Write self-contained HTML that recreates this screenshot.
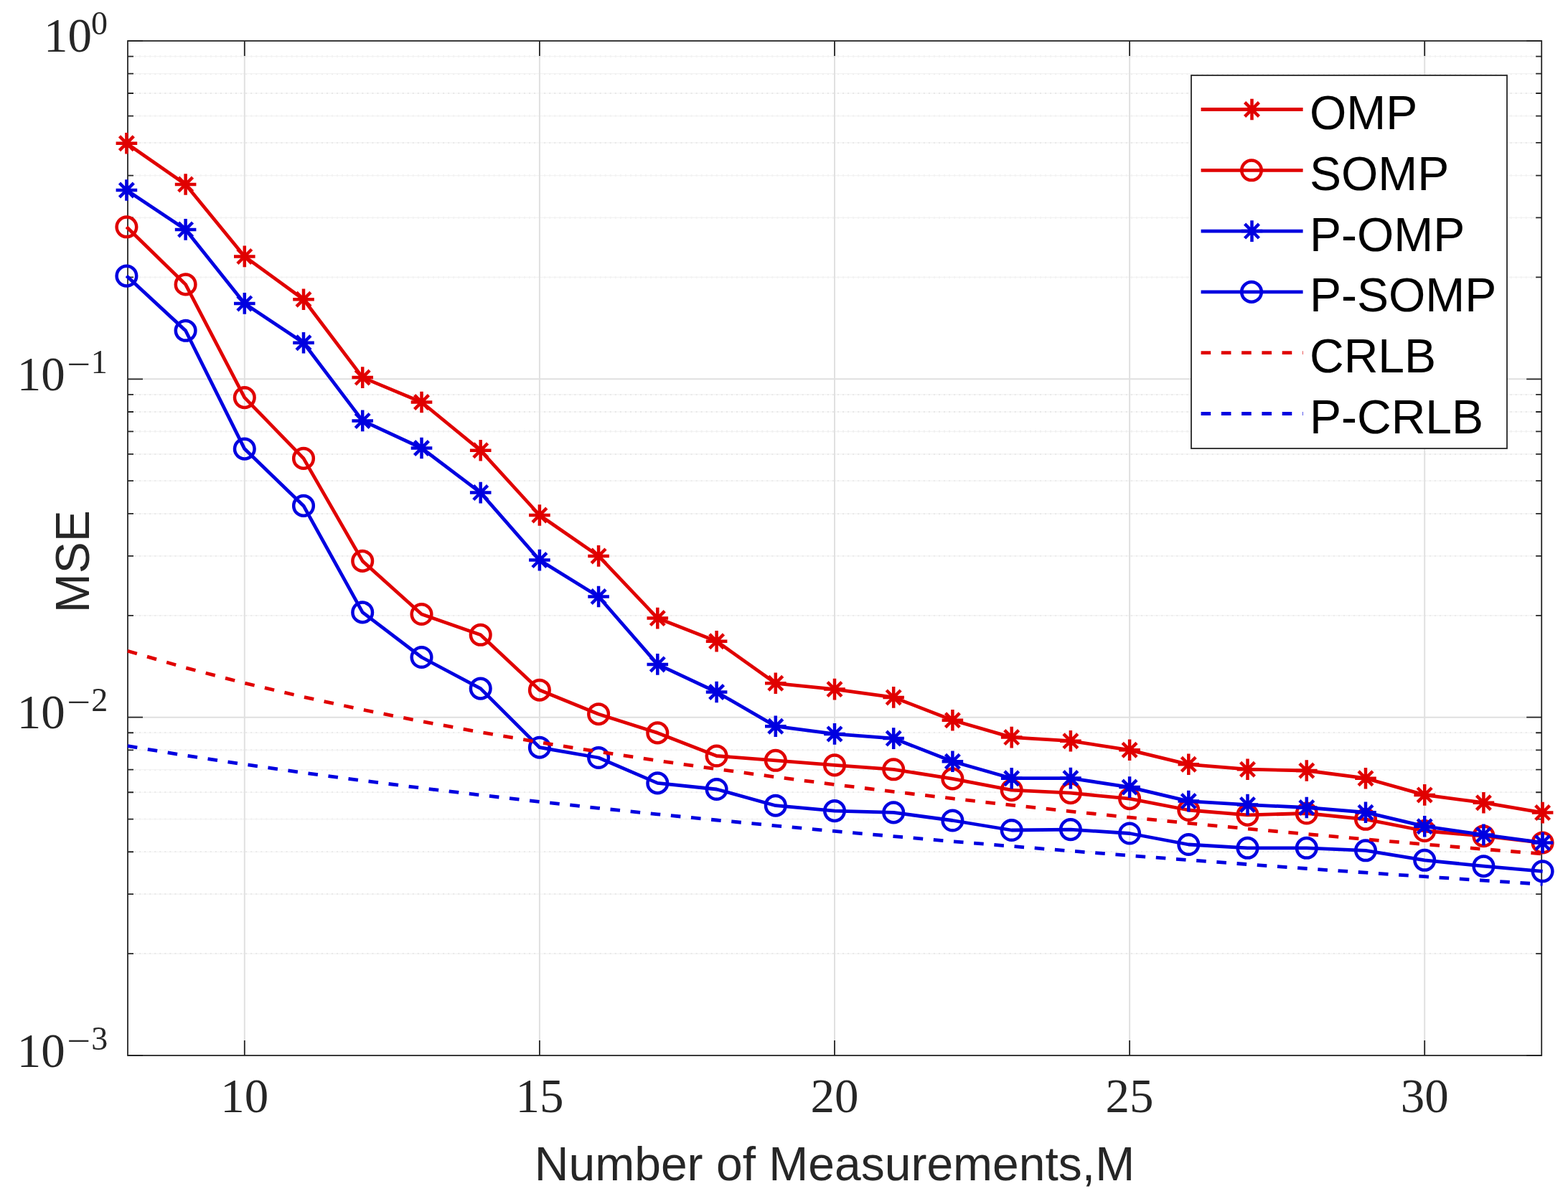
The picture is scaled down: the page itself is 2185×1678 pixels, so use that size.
<!DOCTYPE html>
<html><head><meta charset="utf-8"><title>MSE vs Number of Measurements</title>
<style>html,body{margin:0;padding:0;background:#fff;}body{width:2185px;height:1678px;overflow:hidden;}svg{display:block;}</style>
</head><body>
<svg width="2185" height="1678" viewBox="0 0 2185 1678">
<rect width="2185" height="1678" fill="#fff"/>
<path d="M180.0 1329.11H2148.2M180.0 1246.12H2148.2M180.0 1187.23H2148.2M180.0 1141.55H2148.2M180.0 1104.23H2148.2M180.0 1072.68H2148.2M180.0 1045.34H2148.2M180.0 1021.23H2148.2M180.0 857.78H2148.2M180.0 774.78H2148.2M180.0 715.90H2148.2M180.0 670.22H2148.2M180.0 632.90H2148.2M180.0 601.34H2148.2M180.0 574.01H2148.2M180.0 549.90H2148.2M180.0 386.45H2148.2M180.0 303.45H2148.2M180.0 244.56H2148.2M180.0 198.89H2148.2M180.0 161.56H2148.2M180.0 130.01H2148.2M180.0 102.68H2148.2M180.0 78.57H2148.2" stroke="#cfcfcf" stroke-width="1.6" stroke-dasharray="2 5.05" fill="none"/>
<path d="M180.0 1329.11H2148.2M180.0 1246.12H2148.2M180.0 1187.23H2148.2M180.0 1141.55H2148.2M180.0 1104.23H2148.2M180.0 1072.68H2148.2M180.0 1045.34H2148.2M180.0 1021.23H2148.2M180.0 857.78H2148.2M180.0 774.78H2148.2M180.0 715.90H2148.2M180.0 670.22H2148.2M180.0 632.90H2148.2M180.0 601.34H2148.2M180.0 574.01H2148.2M180.0 549.90H2148.2M180.0 386.45H2148.2M180.0 303.45H2148.2M180.0 244.56H2148.2M180.0 198.89H2148.2M180.0 161.56H2148.2M180.0 130.01H2148.2M180.0 102.68H2148.2M180.0 78.57H2148.2" stroke="#f3f3f3" stroke-width="1.2" fill="none"/>
<path d="M340.8 57.0V1471.0M751.9 57.0V1471.0M1163.0 57.0V1471.0M1574.1 57.0V1471.0M1985.2 57.0V1471.0M178.0 528.33H2148.2M178.0 999.67H2148.2" stroke="#e0e0e0" stroke-width="2" fill="none"/>
<path d="M340.8 1471.0V1450.0M340.8 57.0V78.0M751.9 1471.0V1450.0M751.9 57.0V78.0M1163.0 1471.0V1450.0M1163.0 57.0V78.0M1574.1 1471.0V1450.0M1574.1 57.0V78.0M1985.2 1471.0V1450.0M1985.2 57.0V78.0M178.0 1471.00H199.0M2148.2 1471.00H2127.2M178.0 999.67H199.0M2148.2 999.67H2127.2M178.0 528.33H199.0M2148.2 528.33H2127.2M178.0 57.00H199.0M2148.2 57.00H2127.2" stroke="#262626" stroke-width="1.8" fill="none"/>
<path d="M178.0 1329.11H186.0M2148.2 1329.11H2140.2M178.0 1246.12H186.0M2148.2 1246.12H2140.2M178.0 1187.23H186.0M2148.2 1187.23H2140.2M178.0 1141.55H186.0M2148.2 1141.55H2140.2M178.0 1104.23H186.0M2148.2 1104.23H2140.2M178.0 1072.68H186.0M2148.2 1072.68H2140.2M178.0 1045.34H186.0M2148.2 1045.34H2140.2M178.0 1021.23H186.0M2148.2 1021.23H2140.2M178.0 857.78H186.0M2148.2 857.78H2140.2M178.0 774.78H186.0M2148.2 774.78H2140.2M178.0 715.90H186.0M2148.2 715.90H2140.2M178.0 670.22H186.0M2148.2 670.22H2140.2M178.0 632.90H186.0M2148.2 632.90H2140.2M178.0 601.34H186.0M2148.2 601.34H2140.2M178.0 574.01H186.0M2148.2 574.01H2140.2M178.0 549.90H186.0M2148.2 549.90H2140.2M178.0 386.45H186.0M2148.2 386.45H2140.2M178.0 303.45H186.0M2148.2 303.45H2140.2M178.0 244.56H186.0M2148.2 244.56H2140.2M178.0 198.89H186.0M2148.2 198.89H2140.2M178.0 161.56H186.0M2148.2 161.56H2140.2M178.0 130.01H186.0M2148.2 130.01H2140.2M178.0 102.68H186.0M2148.2 102.68H2140.2M178.0 78.57H186.0M2148.2 78.57H2140.2" stroke="#262626" stroke-width="1.8" fill="none"/>
<rect x="178.0" y="57.0" width="1970.1999999999998" height="1414.0" stroke="#262626" stroke-width="1.8" fill="none"/>
<g fill="none" stroke-linejoin="round">
<polyline points="176.4,199.7 258.6,257.0 340.8,357.4 423.0,417.2 505.2,526.1 587.5,560.5 669.7,627.8 751.9,718.0 834.1,774.9 916.3,861.6 998.6,893.7 1080.8,952.3 1163.0,960.6 1245.2,971.9 1327.4,1003.7 1409.7,1027.6 1491.9,1032.7 1574.1,1045.3 1656.3,1065.3 1738.5,1072.2 1820.8,1074.0 1903.0,1084.7 1985.2,1107.9 2067.4,1118.7 2149.6,1132.6" stroke="#e00000" stroke-width="4.8"/>
<path d="M161.6 199.7H191.2M176.4 184.9V214.5M166.5 189.8L186.3 209.6M166.5 209.6L186.3 189.8M243.8 257.0H273.4M258.6 242.2V271.8M248.7 247.1L268.5 266.9M248.7 266.9L268.5 247.1M326.0 357.4H355.6M340.8 342.6V372.2M330.9 347.5L350.7 367.3M330.9 367.3L350.7 347.5M408.2 417.2H437.8M423.0 402.4V432.0M413.1 407.3L432.9 427.1M413.1 427.1L432.9 407.3M490.4 526.1H520.0M505.2 511.3V540.9M495.3 516.2L515.1 536.0M495.3 536.0L515.1 516.2M572.7 560.5H602.3M587.5 545.7V575.3M577.6 550.6L597.4 570.4M577.6 570.4L597.4 550.6M654.9 627.8H684.5M669.7 613.0V642.6M659.8 617.9L679.6 637.7M659.8 637.7L679.6 617.9M737.1 718.0H766.7M751.9 703.2V732.8M742.0 708.1L761.8 727.9M742.0 727.9L761.8 708.1M819.3 774.9H848.9M834.1 760.1V789.7M824.2 765.0L844.0 784.8M824.2 784.8L844.0 765.0M901.5 861.6H931.1M916.3 846.8V876.4M906.4 851.7L926.2 871.5M906.4 871.5L926.2 851.7M983.8 893.7H1013.4M998.6 878.9V908.5M988.7 883.8L1008.5 903.6M988.7 903.6L1008.5 883.8M1066.0 952.3H1095.6M1080.8 937.5V967.1M1070.9 942.4L1090.7 962.2M1070.9 962.2L1090.7 942.4M1148.2 960.6H1177.8M1163.0 945.8V975.4M1153.1 950.7L1172.9 970.5M1153.1 970.5L1172.9 950.7M1230.4 971.9H1260.0M1245.2 957.1V986.7M1235.3 962.0L1255.1 981.8M1235.3 981.8L1255.1 962.0M1312.6 1003.7H1342.2M1327.4 988.9V1018.5M1317.5 993.8L1337.3 1013.6M1317.5 1013.6L1337.3 993.8M1394.9 1027.6H1424.5M1409.7 1012.8V1042.4M1399.8 1017.7L1419.6 1037.5M1399.8 1037.5L1419.6 1017.7M1477.1 1032.7H1506.7M1491.9 1017.9V1047.5M1482.0 1022.8L1501.8 1042.6M1482.0 1042.6L1501.8 1022.8M1559.3 1045.3H1588.9M1574.1 1030.5V1060.1M1564.2 1035.4L1584.0 1055.2M1564.2 1055.2L1584.0 1035.4M1641.5 1065.3H1671.1M1656.3 1050.5V1080.1M1646.4 1055.4L1666.2 1075.2M1646.4 1075.2L1666.2 1055.4M1723.7 1072.2H1753.3M1738.5 1057.4V1087.0M1728.6 1062.3L1748.4 1082.1M1728.6 1082.1L1748.4 1062.3M1806.0 1074.0H1835.6M1820.8 1059.2V1088.8M1810.9 1064.1L1830.7 1083.9M1810.9 1083.9L1830.7 1064.1M1888.2 1084.7H1917.8M1903.0 1069.9V1099.5M1893.1 1074.8L1912.9 1094.6M1893.1 1094.6L1912.9 1074.8M1970.4 1107.9H2000.0M1985.2 1093.1V1122.7M1975.3 1098.0L1995.1 1117.8M1975.3 1117.8L1995.1 1098.0M2052.6 1118.7H2082.2M2067.4 1103.9V1133.5M2057.5 1108.8L2077.3 1128.6M2057.5 1128.6L2077.3 1108.8M2134.8 1132.6H2164.4M2149.6 1117.8V1147.4M2139.7 1122.7L2159.5 1142.5M2139.7 1142.5L2159.5 1122.7" stroke="#e00000" stroke-width="4.5" fill="none"/>
<polyline points="176.4,316.3 258.6,396.4 340.8,554.1 423.0,638.9 505.2,781.9 587.5,856.0 669.7,884.8 751.9,961.7 834.1,995.2 916.3,1021.4 998.6,1053.5 1080.8,1059.8 1163.0,1066.4 1245.2,1072.3 1327.4,1085.4 1409.7,1101.2 1491.9,1105.2 1574.1,1113.2 1656.3,1129.0 1738.5,1135.9 1820.8,1133.5 1903.0,1141.8 1985.2,1158.0 2067.4,1165.2 2149.6,1174.5" stroke="#e00000" stroke-width="4.8"/>
<g stroke="#e00000" stroke-width="4.5"><circle cx="176.4" cy="316.3" r="13.8"/><circle cx="258.6" cy="396.4" r="13.8"/><circle cx="340.8" cy="554.1" r="13.8"/><circle cx="423.0" cy="638.9" r="13.8"/><circle cx="505.2" cy="781.9" r="13.8"/><circle cx="587.5" cy="856.0" r="13.8"/><circle cx="669.7" cy="884.8" r="13.8"/><circle cx="751.9" cy="961.7" r="13.8"/><circle cx="834.1" cy="995.2" r="13.8"/><circle cx="916.3" cy="1021.4" r="13.8"/><circle cx="998.6" cy="1053.5" r="13.8"/><circle cx="1080.8" cy="1059.8" r="13.8"/><circle cx="1163.0" cy="1066.4" r="13.8"/><circle cx="1245.2" cy="1072.3" r="13.8"/><circle cx="1327.4" cy="1085.4" r="13.8"/><circle cx="1409.7" cy="1101.2" r="13.8"/><circle cx="1491.9" cy="1105.2" r="13.8"/><circle cx="1574.1" cy="1113.2" r="13.8"/><circle cx="1656.3" cy="1129.0" r="13.8"/><circle cx="1738.5" cy="1135.9" r="13.8"/><circle cx="1820.8" cy="1133.5" r="13.8"/><circle cx="1903.0" cy="1141.8" r="13.8"/><circle cx="1985.2" cy="1158.0" r="13.8"/><circle cx="2067.4" cy="1165.2" r="13.8"/><circle cx="2149.6" cy="1174.5" r="13.8"/></g>
<polyline points="176.4,265.0 258.6,319.9 340.8,422.9 423.0,477.8 505.2,586.4 587.5,624.5 669.7,686.6 751.9,780.6 834.1,831.5 916.3,925.9 998.6,964.5 1080.8,1012.2 1163.0,1022.9 1245.2,1029.1 1327.4,1061.2 1409.7,1084.7 1491.9,1084.6 1574.1,1097.1 1656.3,1116.6 1738.5,1121.6 1820.8,1125.5 1903.0,1132.2 1985.2,1151.7 2067.4,1163.4 2149.6,1174.5" stroke="#0000e0" stroke-width="4.8"/>
<path d="M161.6 265.0H191.2M176.4 250.2V279.8M166.5 255.1L186.3 274.9M166.5 274.9L186.3 255.1M243.8 319.9H273.4M258.6 305.1V334.7M248.7 310.0L268.5 329.8M248.7 329.8L268.5 310.0M326.0 422.9H355.6M340.8 408.1V437.7M330.9 413.0L350.7 432.8M330.9 432.8L350.7 413.0M408.2 477.8H437.8M423.0 463.0V492.6M413.1 467.9L432.9 487.7M413.1 487.7L432.9 467.9M490.4 586.4H520.0M505.2 571.6V601.2M495.3 576.5L515.1 596.3M495.3 596.3L515.1 576.5M572.7 624.5H602.3M587.5 609.7V639.3M577.6 614.6L597.4 634.4M577.6 634.4L597.4 614.6M654.9 686.6H684.5M669.7 671.8V701.4M659.8 676.7L679.6 696.5M659.8 696.5L679.6 676.7M737.1 780.6H766.7M751.9 765.8V795.4M742.0 770.7L761.8 790.5M742.0 790.5L761.8 770.7M819.3 831.5H848.9M834.1 816.7V846.3M824.2 821.6L844.0 841.4M824.2 841.4L844.0 821.6M901.5 925.9H931.1M916.3 911.1V940.7M906.4 916.0L926.2 935.8M906.4 935.8L926.2 916.0M983.8 964.5H1013.4M998.6 949.7V979.3M988.7 954.6L1008.5 974.4M988.7 974.4L1008.5 954.6M1066.0 1012.2H1095.6M1080.8 997.4V1027.0M1070.9 1002.3L1090.7 1022.1M1070.9 1022.1L1090.7 1002.3M1148.2 1022.9H1177.8M1163.0 1008.1V1037.7M1153.1 1013.0L1172.9 1032.8M1153.1 1032.8L1172.9 1013.0M1230.4 1029.1H1260.0M1245.2 1014.3V1043.9M1235.3 1019.2L1255.1 1039.0M1235.3 1039.0L1255.1 1019.2M1312.6 1061.2H1342.2M1327.4 1046.4V1076.0M1317.5 1051.3L1337.3 1071.1M1317.5 1071.1L1337.3 1051.3M1394.9 1084.7H1424.5M1409.7 1069.9V1099.5M1399.8 1074.8L1419.6 1094.6M1399.8 1094.6L1419.6 1074.8M1477.1 1084.6H1506.7M1491.9 1069.8V1099.4M1482.0 1074.7L1501.8 1094.5M1482.0 1094.5L1501.8 1074.7M1559.3 1097.1H1588.9M1574.1 1082.3V1111.9M1564.2 1087.2L1584.0 1107.0M1564.2 1107.0L1584.0 1087.2M1641.5 1116.6H1671.1M1656.3 1101.8V1131.4M1646.4 1106.7L1666.2 1126.5M1646.4 1126.5L1666.2 1106.7M1723.7 1121.6H1753.3M1738.5 1106.8V1136.4M1728.6 1111.7L1748.4 1131.5M1728.6 1131.5L1748.4 1111.7M1806.0 1125.5H1835.6M1820.8 1110.7V1140.3M1810.9 1115.6L1830.7 1135.4M1810.9 1135.4L1830.7 1115.6M1888.2 1132.2H1917.8M1903.0 1117.4V1147.0M1893.1 1122.3L1912.9 1142.1M1893.1 1142.1L1912.9 1122.3M1970.4 1151.7H2000.0M1985.2 1136.9V1166.5M1975.3 1141.8L1995.1 1161.6M1975.3 1161.6L1995.1 1141.8M2052.6 1163.4H2082.2M2067.4 1148.6V1178.2M2057.5 1153.5L2077.3 1173.3M2057.5 1173.3L2077.3 1153.5M2134.8 1174.5H2164.4M2149.6 1159.7V1189.3M2139.7 1164.6L2159.5 1184.4M2139.7 1184.4L2159.5 1164.6" stroke="#0000e0" stroke-width="4.5" fill="none"/>
<polyline points="176.4,384.6 258.6,460.8 340.8,625.6 423.0,704.9 505.2,853.4 587.5,916.0 669.7,959.6 751.9,1041.7 834.1,1056.0 916.3,1091.4 998.6,1100.0 1080.8,1122.7 1163.0,1130.1 1245.2,1132.4 1327.4,1143.5 1409.7,1157.0 1491.9,1156.1 1574.1,1161.5 1656.3,1177.0 1738.5,1181.8 1820.8,1181.8 1903.0,1185.3 1985.2,1198.8 2067.4,1207.2 2149.6,1214.3" stroke="#0000e0" stroke-width="4.8"/>
<g stroke="#0000e0" stroke-width="4.5"><circle cx="176.4" cy="384.6" r="13.8"/><circle cx="258.6" cy="460.8" r="13.8"/><circle cx="340.8" cy="625.6" r="13.8"/><circle cx="423.0" cy="704.9" r="13.8"/><circle cx="505.2" cy="853.4" r="13.8"/><circle cx="587.5" cy="916.0" r="13.8"/><circle cx="669.7" cy="959.6" r="13.8"/><circle cx="751.9" cy="1041.7" r="13.8"/><circle cx="834.1" cy="1056.0" r="13.8"/><circle cx="916.3" cy="1091.4" r="13.8"/><circle cx="998.6" cy="1100.0" r="13.8"/><circle cx="1080.8" cy="1122.7" r="13.8"/><circle cx="1163.0" cy="1130.1" r="13.8"/><circle cx="1245.2" cy="1132.4" r="13.8"/><circle cx="1327.4" cy="1143.5" r="13.8"/><circle cx="1409.7" cy="1157.0" r="13.8"/><circle cx="1491.9" cy="1156.1" r="13.8"/><circle cx="1574.1" cy="1161.5" r="13.8"/><circle cx="1656.3" cy="1177.0" r="13.8"/><circle cx="1738.5" cy="1181.8" r="13.8"/><circle cx="1820.8" cy="1181.8" r="13.8"/><circle cx="1903.0" cy="1185.3" r="13.8"/><circle cx="1985.2" cy="1198.8" r="13.8"/><circle cx="2067.4" cy="1207.2" r="13.8"/><circle cx="2149.6" cy="1214.3" r="13.8"/></g>
<polyline points="176.4,906.8 258.6,930.7 340.8,952.0 423.0,971.4 505.2,989.1 587.5,1005.4 669.7,1020.5 751.9,1034.6 834.1,1047.7 916.3,1060.1 998.6,1071.8 1080.8,1082.9 1163.0,1093.4 1245.2,1103.4 1327.4,1112.9 1409.7,1122.1 1491.9,1130.8 1574.1,1139.2 1656.3,1147.3 1738.5,1155.0 1820.8,1162.5 1903.0,1169.7 1985.2,1176.7 2067.4,1183.5 2149.6,1190.0" stroke="#e00000" stroke-width="4.8" stroke-dasharray="13.6 14.67" stroke-dashoffset="26.77"/>
<polyline points="176.4,1039.5 258.6,1052.9 340.8,1065.3 423.0,1077.0 505.2,1087.9 587.5,1098.3 669.7,1108.1 751.9,1117.4 834.1,1126.3 916.3,1134.8 998.6,1143.0 1080.8,1150.8 1163.0,1158.4 1245.2,1165.6 1327.4,1172.7 1409.7,1179.4 1491.9,1186.0 1574.1,1192.4 1656.3,1198.6 1738.5,1204.6 1820.8,1210.5 1903.0,1216.2 1985.2,1221.7 2067.4,1227.1 2149.6,1232.4" stroke="#0000e0" stroke-width="4.8" stroke-dasharray="13.6 14.67" stroke-dashoffset="26.77"/>
</g>
<rect x="1660" y="105" width="440" height="520" fill="#fff" stroke="#262626" stroke-width="1.8"/>
<path d="M1673.6 152.5H1815.6" stroke="#e00000" stroke-width="4.8" fill="none"/>
<path d="M1729.7 152.5H1759.3M1744.5 137.7V167.3M1734.6 142.6L1754.4 162.4M1734.6 162.4L1754.4 142.6" stroke="#e00000" stroke-width="4.5" fill="none"/>
<text x="1825" y="180.0" font-family="'Liberation Sans', Arial, Helvetica, sans-serif" font-size="66" fill="#000">OMP</text>
<path d="M1673.6 237.3H1815.6" stroke="#e00000" stroke-width="4.8" fill="none"/>
<circle cx="1744" cy="237.3" r="13.8" stroke="#e00000" stroke-width="4.5" fill="none"/>
<text x="1825" y="264.8" font-family="'Liberation Sans', Arial, Helvetica, sans-serif" font-size="66" fill="#000">SOMP</text>
<path d="M1673.6 322.1H1815.6" stroke="#0000e0" stroke-width="4.8" fill="none"/>
<path d="M1729.7 322.1H1759.3M1744.5 307.3V336.9M1734.6 312.2L1754.4 332.0M1734.6 332.0L1754.4 312.2" stroke="#0000e0" stroke-width="4.5" fill="none"/>
<text x="1825" y="349.6" font-family="'Liberation Sans', Arial, Helvetica, sans-serif" font-size="66" fill="#000">P-OMP</text>
<path d="M1673.6 406.9H1815.6" stroke="#0000e0" stroke-width="4.8" fill="none"/>
<circle cx="1744" cy="406.9" r="13.8" stroke="#0000e0" stroke-width="4.5" fill="none"/>
<text x="1825" y="434.4" font-family="'Liberation Sans', Arial, Helvetica, sans-serif" font-size="66" fill="#000">P-SOMP</text>
<path d="M1673.6 491.7H1815.6" stroke="#e00000" stroke-width="4.8" fill="none" stroke-dasharray="13.6 14.67"/>
<text x="1825" y="519.2" font-family="'Liberation Sans', Arial, Helvetica, sans-serif" font-size="66" fill="#000">CRLB</text>
<path d="M1673.6 576.5H1815.6" stroke="#0000e0" stroke-width="4.8" fill="none" stroke-dasharray="13.6 14.67"/>
<text x="1825" y="604.0" font-family="'Liberation Sans', Arial, Helvetica, sans-serif" font-size="66" fill="#000">P-CRLB</text>
<g font-family="'Liberation Serif', 'Times New Roman', serif" fill="#262626">
<text x="340.8" y="1549.7" font-size="67" text-anchor="middle">10</text>
<text x="751.9" y="1549.7" font-size="67" text-anchor="middle">15</text>
<text x="1163.0" y="1549.7" font-size="67" text-anchor="middle">20</text>
<text x="1574.1" y="1549.7" font-size="67" text-anchor="middle">25</text>
<text x="1985.2" y="1549.7" font-size="67" text-anchor="middle">30</text>
<text x="23.8" y="1487.4" font-size="67">10</text>
<text transform="translate(93.5 1466.3) scale(1.27 1)" font-size="46">−</text>
<text x="127.2" y="1463.1" font-size="46">3</text>
<text x="23.8" y="1014.8" font-size="67">10</text>
<text transform="translate(93.5 993.7) scale(1.27 1)" font-size="46">−</text>
<text x="127.2" y="990.5" font-size="46">2</text>
<text x="23.8" y="544.4" font-size="67">10</text>
<text transform="translate(93.5 523.3) scale(1.27 1)" font-size="46">−</text>
<text x="126.8" y="520.1" font-size="46">1</text>
<text x="60.9" y="71.8" font-size="67">10</text>
<text x="127" y="47.5" font-size="46">0</text>
</g>
<text x="1163" y="1644.5" font-family="'Liberation Sans', Arial, Helvetica, sans-serif" font-size="66" fill="#262626" text-anchor="middle">Number of Measurements,M</text>
<text transform="translate(123.8 782.8) rotate(-90)" font-family="'Liberation Sans', Arial, Helvetica, sans-serif" font-size="66" fill="#262626" text-anchor="middle">MSE</text>
</svg>
</body></html>
